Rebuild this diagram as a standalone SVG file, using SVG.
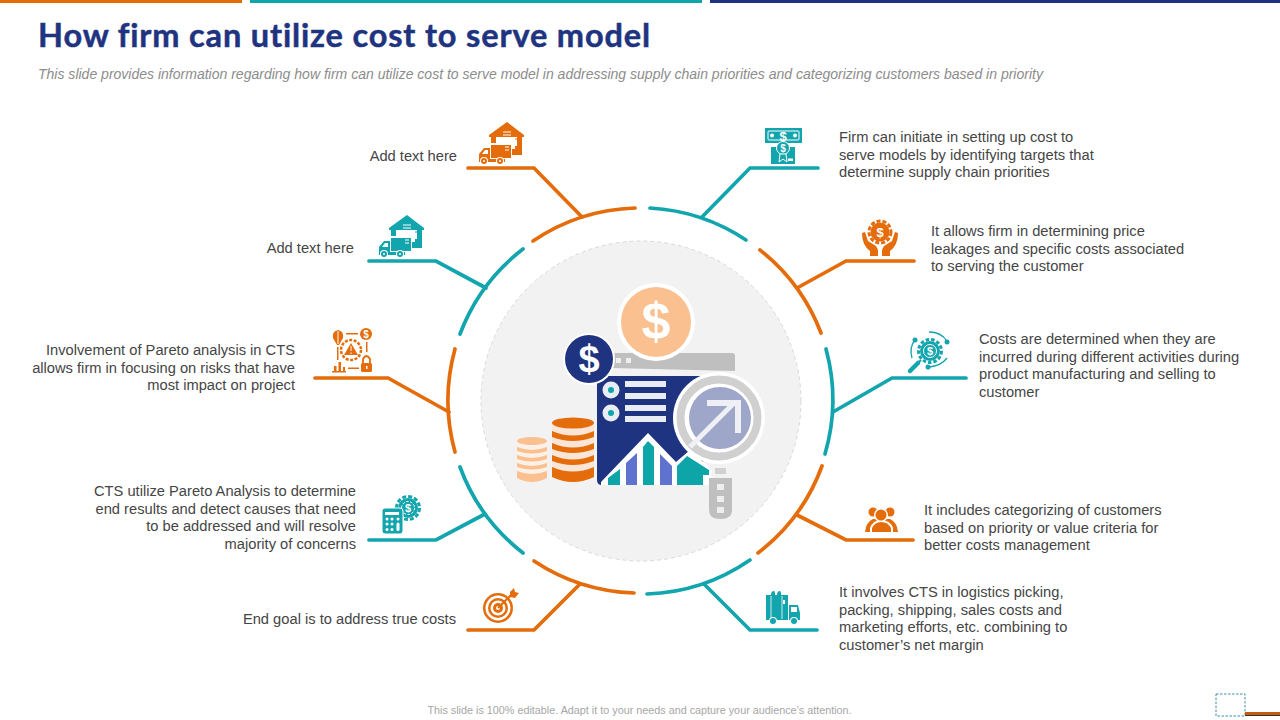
<svg xmlns="http://www.w3.org/2000/svg" width="1280" height="720" viewBox="0 0 1280 720">
<style>
text{font-family:"Liberation Sans",Arial,sans-serif;font-size:14.7px;fill:#454545}
.r{text-anchor:end}
.o{fill:none;stroke:#e46c0a;stroke-width:3.7;stroke-linecap:round}
.t{fill:none;stroke:#12a5ae;stroke-width:3.7;stroke-linecap:round}
.fo{fill:#e46c0a;color:#e46c0a}.ft{fill:#12a5ae;color:#12a5ae}
.d{font-weight:700;fill:#fff;text-anchor:middle}
</style>
<defs>
<g id="truckhouse">
<path d="M489 135L507 122L524 135V137H522V155H517V137H496V145H491V137H489Z"/>
<path d="M503 132H511M503 135H511" stroke="#fff" stroke-width="1"/>
<path d="M509 146H519V155H509Z"/>
<path d="M512 146V149H515V146" fill="#fff"/>
<path d="M515 139H519V143" fill="none" stroke="currentColor" stroke-width="1"/>
<rect x="490" y="143" width="22" height="16" fill="#fff"/>
<rect x="491" y="145" width="20" height="13"/>
<path d="M505 147H509M505 150H509" stroke="#fff" stroke-width="1"/>
<path d="M479 162V154L484 148H490V159H505V162Z"/>
<path d="M482 154L485 150H488V154Z" fill="#fff"/>
<circle cx="484" cy="161" r="4" fill="#fff"/><circle cx="484" cy="161" r="3"/><circle cx="484" cy="161" r="1" fill="#fff"/>
<circle cx="500" cy="161" r="4" fill="#fff"/><circle cx="500" cy="161" r="3"/><circle cx="500" cy="161" r="1" fill="#fff"/>
</g>
</defs>
<rect width="1280" height="720" fill="#fff"/>
<rect x="0" y="0" width="242" height="3" fill="#e46c0a"/>
<rect x="250" y="0" width="452" height="3" fill="#0ea5a8"/>
<rect x="710" y="0" width="570" height="3" fill="#1f3480"/>
<text x="38" y="47" textLength="612" lengthAdjust="spacing" style="font-family:Lato,sans-serif;font-weight:700;font-size:32.5px;fill:#1f3480;stroke:#1f3480;stroke-width:0.5;font-variant-ligatures:none">How firm can utilize cost to serve model</text>
<text x="38" y="79" style="font-style:italic;font-size:14.03px;fill:#8c8c8c">This slide provides information regarding how firm can utilize cost to serve model in addressing supply chain priorities and categorizing customers based in priority</text>

<g id="center">
<circle cx="641" cy="401" r="160" fill="#f2f2f2" stroke="#d9d9d9" stroke-dasharray="4 3"/>
<path d="M612 353H732Q735 353 735 356V371L612 368Z" fill="#bfbfbf"/>
<rect x="616" y="358" width="5" height="5" fill="#eee"/><rect x="626" y="358" width="5" height="5" fill="#eee"/>
<path d="M597 376H703V485H602Q597 485 597 480Z" fill="#1f3480"/>
<circle cx="611" cy="390" r="8.5" fill="#e8ecf5"/><circle cx="611" cy="390" r="3" fill="#0ea5a8"/>
<circle cx="611" cy="413" r="8.5" fill="#e8ecf5"/><circle cx="611" cy="413" r="3" fill="#0ea5a8"/>
<path d="M625 381H666V387H625ZM625 393H666V399H625ZM625 405H666V411H625ZM625 416H666V422H625Z" fill="#e8ecf5"/>
<path d="M601 485V482L648 433L676 462L690 450L712 470V485Z" fill="#fff"/>
<path d="M608 485V478L620 469V485Z" fill="#0ea5a8"/>
<path d="M626 485V463L637 453V485Z" fill="#5e72ce"/>
<path d="M643 485V447L648 441L654 447V485Z" fill="#0ea5a8"/>
<path d="M660 485V454L672 466V485Z" fill="#5e72ce"/>
<path d="M677 485V466L687 456L709 470V475H703V485Z" fill="#0ea5a8"/>
<circle cx="719" cy="418" r="46" fill="#fff"/>
<circle cx="719" cy="418" r="38.5" fill="none" stroke="#d0d0d0" stroke-width="8"/>
<circle cx="720" cy="418" r="31" fill="#9ea7c9"/>
<path d="M690 447L735 402" stroke="#eef0f6" stroke-width="5" fill="none"/>
<path d="M707 403H738V433" stroke="#eef0f6" stroke-width="6" fill="none"/>
<rect x="715" y="468" width="11" height="6" fill="#d0d0d0"/>
<path d="M709 478H732V510Q732 519 720 519Q709 519 709 510Z" fill="#bfbfbf"/>
<path d="M717 484H724V490H717ZM717 496H724V502H717ZM717 507H724V513H717Z" fill="#eee"/>
<circle cx="656" cy="322" r="39" fill="#fff"/><circle cx="656" cy="322" r="35" fill="#fac090"/>
<text x="656" y="339" class="d" style="font-size:52px">$</text>
<circle cx="589" cy="359" r="26" fill="#fff"/><circle cx="589" cy="359" r="24" fill="#1f3480"/>
<text x="589" y="372" class="d" style="font-size:38px">$</text>
<path d="M552 423H594V477Q573 487 552 477Z" fill="#fbe5d6"/>
<g fill="#e46c0a">
<ellipse cx="573" cy="423" rx="21" ry="5.5"/>
<path d="M552 431Q573 440 594 431V437Q573 445 552 437ZM552 443Q573 452 594 443V449Q573 457 552 449ZM552 455Q573 464 594 455V461Q573 469 552 461ZM552 467Q573 476 594 467V477Q573 487 552 477Z"/>
</g>
<path d="M517 441H547V478Q532 486 517 478Z" fill="#fdf0e6"/>
<g fill="#fac090">
<ellipse cx="532" cy="441" rx="15" ry="4"/>
<path d="M517 447Q532 453 547 447V451Q532 456 517 451ZM517 455Q532 461 547 455V459Q532 464 517 459ZM517 463Q532 469 547 463V467Q532 472 517 467ZM517 471Q532 477 547 471V478Q532 486 517 478Z"/>
</g>
</g>

<g id="connectors">
<path class="o" d="M533 241A193 193 0 0 1 635 208"/>
<path class="t" d="M650 208A193 193 0 0 1 746 240"/>
<path class="o" d="M760 250A193 193 0 0 1 821 333"/>
<path class="t" d="M826 349A193 193 0 0 1 825 454"/>
<path class="o" d="M822 466A193 193 0 0 1 758 553"/>
<path class="t" d="M750 560A193 193 0 0 1 647 594"/>
<path class="o" d="M634 593A193 193 0 0 1 534 561"/>
<path class="t" d="M523 553A193 193 0 0 1 460 467"/>
<path class="o" d="M455 452A193 193 0 0 1 455 349"/>
<path class="t" d="M460 334A193 193 0 0 1 523 249"/>
<path class="o" d="M468 168H534L582 217"/>
<path class="t" d="M369 261H436L486 288"/>
<path class="o" d="M315 378H388L449 412"/>
<path class="t" d="M369 540H436L485 514"/>
<path class="o" d="M468 630H534L580 584"/>
<path class="t" d="M818 168H750L702 217"/>
<path class="o" d="M914 261H846L797 288"/>
<path class="t" d="M966 378H892L833 412"/>
<path class="o" d="M913 540H846L797 515"/>
<path class="t" d="M817 630H750L704 584"/>
</g>

<g id="n1" class="fo">
<use href="#truckhouse"/>
<text x="457" y="161" class="r">Add text here</text>
</g>
<g id="n2" class="ft">
<use href="#truckhouse" transform="translate(-100 93)"/>
<text x="354" y="253" class="r">Add text here</text>
</g>
<g id="n3" class="fo">
<path d="M338 330Q344 331 343 338L339 345H337L333 338Q332 331 338 330Z"/>
<path d="M338 331V344" stroke="#fff"/>
<circle cx="366" cy="334" r="6"/>
<text x="366" y="338" class="d" style="font-size:10px">$</text>
<path d="M346 333H358V334.5H346ZM337 347H338.5V360H337ZM366 342H367.5V352H366Z"/>
<circle cx="351" cy="350" r="10" fill="none" stroke="currentColor" stroke-width="2.5" stroke-dasharray="3 1.5"/>
<path d="M351 343L358 355H344Z"/>
<path d="M351 346V351M351 352.5V354" stroke="#fff"/>
<rect x="361" y="363" width="11" height="9" rx="1.5"/>
<path d="M363 363V359Q366.5 353 370 359V363" fill="none" stroke="currentColor" stroke-width="1.8"/>
<rect x="366" y="366" width="1.5" height="3" fill="#fff"/>
<path d="M332 371H346V372.5H332ZM334 366H336.5V371H334ZM338.5 362H341V371H338.5ZM343 367H345V371H343ZM348 367.5H359V369H348Z"/>
<text class="r"><tspan x="295" y="355">Involvement of Pareto analysis in CTS</tspan><tspan x="295" y="373">allows firm in focusing on risks that have</tspan><tspan x="295" y="390">most impact on project</tspan></text>
</g>
<g id="n4" class="ft">
<circle cx="408" cy="508" r="11.5" fill="none" stroke="currentColor" stroke-width="3" stroke-dasharray="4 2"/>
<circle cx="408" cy="508" r="10"/>
<circle cx="408" cy="508" r="6.5" fill="none" stroke="#fff" stroke-dasharray="2.5 1.5"/>
<text x="408" y="512" class="d" style="font-size:11px">$</text>
<rect x="382" y="508" width="21" height="26" rx="3" stroke="#fff"/>
<path d="M385 512H399V515H385Z" fill="#fff"/>
<g fill="#fff"><circle cx="387" cy="519" r="1.5"/><circle cx="392" cy="519" r="1.5"/><circle cx="398" cy="519" r="1.5"/><circle cx="387" cy="524" r="1.5"/><circle cx="392" cy="524" r="1.5"/><circle cx="387" cy="529.5" r="1.5"/><circle cx="392" cy="529.5" r="1.5"/><rect x="396.5" y="522.5" width="3" height="8.5" rx="1.5"/></g>
<text class="r"><tspan x="356" y="496">CTS utilize Pareto Analysis to determine</tspan><tspan x="356" y="514">end results and detect causes that need</tspan><tspan x="356" y="531">to be addressed and will resolve</tspan><tspan x="356" y="549">majority of concerns</tspan></text>
</g>
<g id="n5" class="fo">
<circle cx="498" cy="608" r="15"/>
<circle cx="498" cy="608" r="12.5" fill="#fff"/>
<circle cx="498" cy="608" r="10"/>
<circle cx="498" cy="608" r="7.5" fill="#fff"/>
<circle cx="498" cy="608" r="5"/>
<circle cx="498" cy="608" r="2" fill="#fff"/>
<path d="M498 608L512 594" stroke="currentColor" stroke-width="2"/>
<path d="M510 592L514 588L515 592L519 593L515 598L510 597Z"/>
<text x="456" y="624" class="r">End goal is to address true costs</text>
</g>
<g id="n6" class="ft">
<rect x="765" y="128" width="37" height="15"/>
<rect x="768" y="131" width="31" height="9" rx="1" fill="none" stroke="#fff" stroke-width="1"/>
<circle cx="772" cy="135.5" r="2" fill="#fff"/><circle cx="795" cy="135.5" r="2" fill="#fff"/>
<text x="783" y="140.500" class="d" style="font-size:13px">$</text>
<rect x="771" y="147" width="24" height="17"/>
<circle cx="783" cy="148" r="6.5" stroke="#fff"/>
<path d="M780 154L779 162L783 159L787 162L786 154Z" stroke="#fff" stroke-width="1"/>
<text x="783" y="152" class="d" style="font-size:10px">$</text>
<rect x="788" y="158.5" width="5" height="2.5" fill="#fff"/>
<text><tspan x="839" y="142">Firm can initiate in setting up cost to</tspan><tspan x="839" y="160">serve models by identifying targets that</tspan><tspan x="839" y="177">determine supply chain priorities</tspan></text>
</g>
<g id="n7" class="fo">
<circle cx="880" cy="232" r="11" fill="none" stroke="currentColor" stroke-width="3" stroke-dasharray="4 2"/>
<circle cx="880" cy="232" r="9.5"/>
<text x="880" y="237" class="d" style="font-size:13px">$</text>
<path d="M862 233L865 232L868 241L876 246L878 250V256H870V251Q862 245 862 233Z"/>
<path d="M898 233L895 232L892 241L884 246L882 250V256H890V251Q898 245 898 233Z"/>
<text><tspan x="931" y="236">It allows firm in determining price</tspan><tspan x="931" y="254">leakages and specific costs associated</tspan><tspan x="931" y="271">to serving the customer</tspan></text>
</g>
<g id="n8" class="ft">
<circle cx="930" cy="351" r="11.5" fill="none" stroke="currentColor" stroke-width="3" stroke-dasharray="3.5 2"/>
<circle cx="930" cy="351" r="10"/>
<circle cx="930" cy="351" r="6.5" fill="none" stroke="#fff"/>
<text x="930" y="355" class="d" style="font-size:11px">$</text>
<path d="M918 363L910 371" stroke="currentColor" stroke-width="4.5" stroke-linecap="round"/>
<path d="M921 360L918 363" stroke="currentColor" stroke-width="2"/>
<path d="M929 332Q941 332 947 341M947 358Q941 366 929 367M912 358Q909 347 915 340" fill="none" stroke="currentColor" stroke-width="1.3"/>
<circle cx="915" cy="340" r="2.5"/><circle cx="947" cy="342" r="2.5"/><circle cx="928" cy="367" r="2.5"/>
<text><tspan x="979" y="344">Costs are determined when they are</tspan><tspan x="979" y="362">incurred during different activities during</tspan><tspan x="979" y="379">product manufacturing and selling to</tspan><tspan x="979" y="397">customer</tspan></text>
</g>
<g id="n9" class="fo">
<circle cx="873" cy="512" r="4.5"/><circle cx="890" cy="512" r="4.5"/>
<path d="M865 532Q866 522 873 519H890Q897 522 898 532Z"/>
<circle cx="881" cy="515" r="7" fill="#fff"/>
<path d="M870 533V528Q873 520 881 520Q890 520 893 528V533Z" fill="#fff"/>
<circle cx="881" cy="515" r="5.5"/>
<path d="M872 532V528Q875 522 881 522Q888 522 891 528V532Z"/>
<text><tspan x="924" y="515">It includes categorizing of customers</tspan><tspan x="924" y="533">based on priority or value criteria for</tspan><tspan x="924" y="550">better costs management</tspan></text>
</g>
<g id="n10" class="ft">
<rect x="766" y="595" width="22" height="25"/>
<path d="M771 595Q771 591 774 591Q775 591 775 595ZM777 595Q777 591 780 591Q781 591 781 595Z"/>
<path d="M771 596V619M782 596V619" stroke="#fff" stroke-width="0.8"/>
<path d="M783 600H785V604H783Z" fill="#fff"/>
<path d="M789 605H798L800 613V620H789Z"/>
<rect x="791" y="607" width="6" height="5" fill="#fff"/>
<circle cx="773" cy="621" r="4" fill="#fff"/><circle cx="773" cy="621" r="3"/>
<circle cx="794" cy="621" r="4" fill="#fff"/><circle cx="794" cy="621" r="3"/>
<text><tspan x="839" y="597">It involves CTS in logistics picking,</tspan><tspan x="839" y="615">packing, shipping, sales costs and</tspan><tspan x="839" y="632">marketing efforts, etc. combining to</tspan><tspan x="839" y="650">customer’s net margin</tspan></text>
</g>
<text x="639.5" y="714" text-anchor="middle" style="font-size:10.8px;fill:#a6a6a6">This slide is 100% editable. Adapt it to your needs and capture your audience’s attention.</text>
<rect x="1216" y="694" width="29" height="22" fill="#fff" stroke="#3f8ea8" stroke-dasharray="2.5 1.5"/>
<rect x="1245" y="712" width="35" height="3" fill="#c55a11"/>
<rect x="1245" y="715" width="35" height="1" fill="#333"/>
</svg>
